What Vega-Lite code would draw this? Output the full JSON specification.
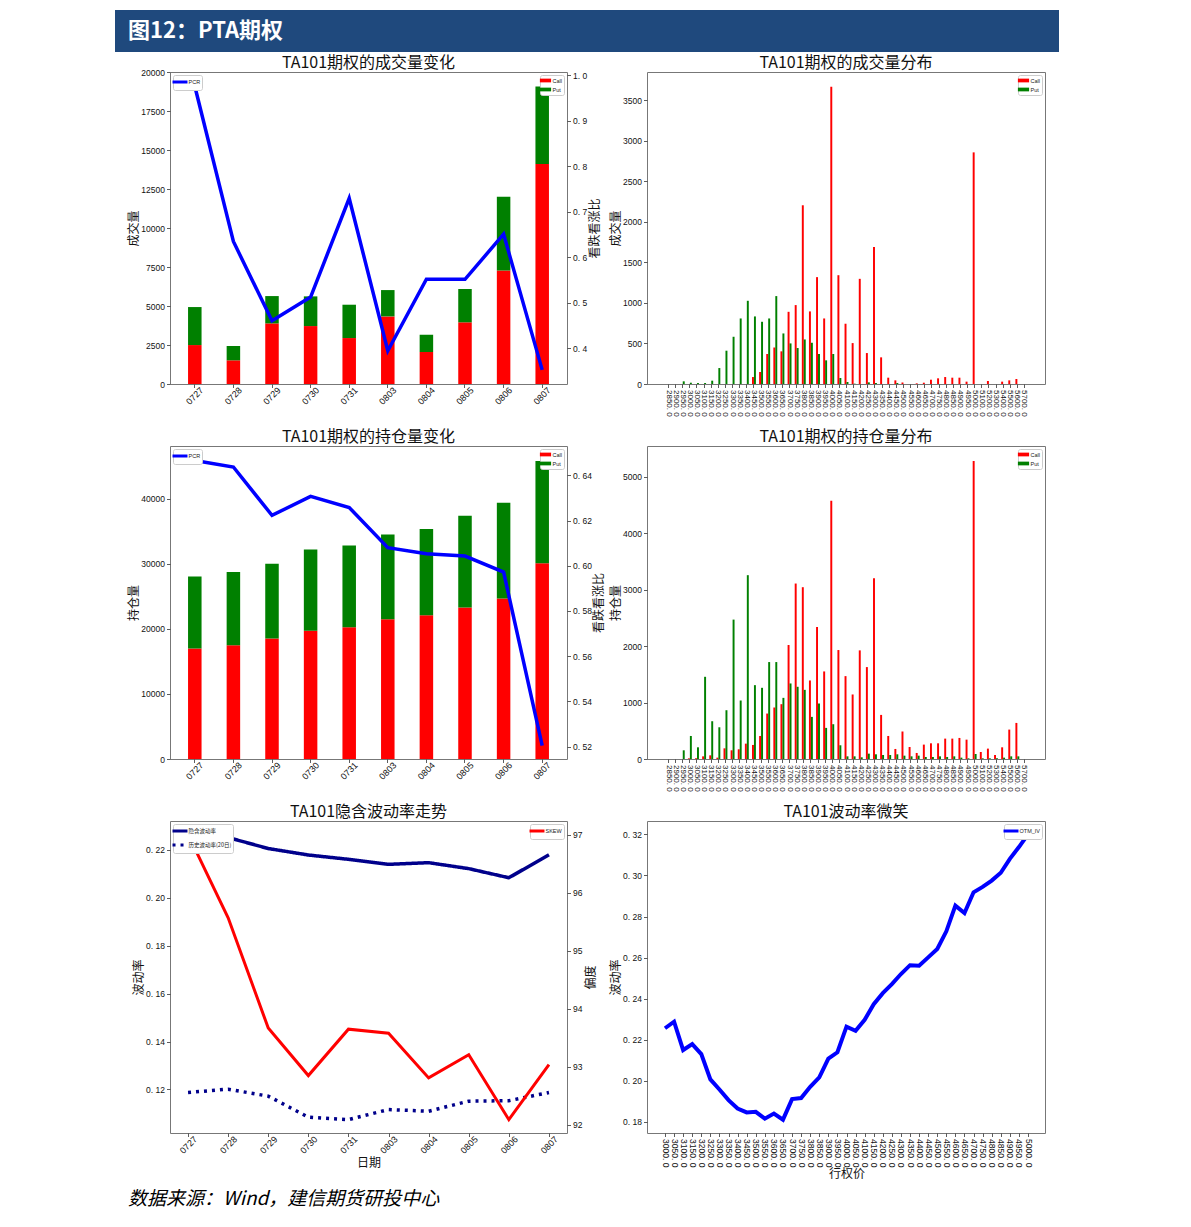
{
  "$schema": "https://vega.github.io/schema/vega-lite/v6.json",
  "background": "white",
  "padding": {"left": 115, "top": 9, "right": 10, "bottom": 10},
  "columns": 2,
  "bounds": "flush",
  "align": "each",
  "spacing": {"row": 62, "column": 80},
  "resolve": {"scale": {"color": "independent", "stroke": "independent", "strokeDash": "independent"}, "legend": {"color": "independent", "stroke": "independent", "strokeDash": "independent"}},
  "config": {
    "view": {"stroke": "#777777", "strokeWidth": 1},
    "axis": {"grid": false, "domain": false, "tickColor": "#333333", "tickSize": 3.5, "tickWidth": 0.8, "labelFont": "Liberation Sans", "labelFontSize": 8.5, "labelColor": "#111111", "labelPadding": 2, "titleFont": "Noto Sans CJK SC", "titleFontSize": 12, "titleFontWeight": "normal", "titleColor": "#111111", "titlePadding": 0},
    "title": {"font": "Noto Sans CJK SC", "fontSize": 16, "fontWeight": "normal", "color": "#111111", "offset": 1, "anchor": "middle", "frame": "group"},
    "legend": {"labelFont": "Liberation Sans", "labelFontSize": 5.5, "labelColor": "#222222", "padding": 1.5, "offset": 3, "fillColor": "#ffffff", "strokeColor": "#cccccc", "cornerRadius": 2, "rowPadding": 1, "labelOffset": 3, "symbolStrokeWidth": 3, "symbolSize": 56, "symbolType": "M-2,0L2,0"}
  },
  "datasets": {
    "tl": [
      {"date": "0727", "Call": 2500, "Put": 2440, "PCR": 0.976},
      {"date": "0728", "Call": 1520, "Put": 920, "PCR": 0.635},
      {"date": "0729", "Call": 3890, "Put": 1755, "PCR": 0.461},
      {"date": "0730", "Call": 3720, "Put": 1905, "PCR": 0.513},
      {"date": "0731", "Call": 2950, "Put": 2140, "PCR": 0.730},
      {"date": "0803", "Call": 4340, "Put": 1690, "PCR": 0.395},
      {"date": "0804", "Call": 2050, "Put": 1115, "PCR": 0.552},
      {"date": "0805", "Call": 3960, "Put": 2140, "PCR": 0.552},
      {"date": "0806", "Call": 7290, "Put": 4730, "PCR": 0.651},
      {"date": "0807", "Call": 14120, "Put": 4980, "PCR": 0.353}
    ],
    "ml": [
      {"date": "0727", "Call": 16970, "Put": 11080, "PCR": 0.6466},
      {"date": "0728", "Call": 17490, "Put": 11230, "PCR": 0.6437},
      {"date": "0729", "Call": 18510, "Put": 11490, "PCR": 0.6223},
      {"date": "0730", "Call": 19690, "Put": 12510, "PCR": 0.6307},
      {"date": "0731", "Call": 20260, "Put": 12560, "PCR": 0.6258},
      {"date": "0803", "Call": 21490, "Put": 13020, "PCR": 0.6080},
      {"date": "0804", "Call": 22100, "Put": 13230, "PCR": 0.6053},
      {"date": "0805", "Call": 23280, "Put": 14100, "PCR": 0.6043},
      {"date": "0806", "Call": 24670, "Put": 14720, "PCR": 0.5972},
      {"date": "0807", "Call": 30100, "Put": 15700, "PCR": 0.5204}
    ],
    "tr": [
      {"strike": "2850.0", "Call": 0, "Put": 0},
      {"strike": "2900.0", "Call": 0, "Put": 0},
      {"strike": "2950.0", "Call": 0, "Put": 33},
      {"strike": "3000.0", "Call": 0, "Put": 16},
      {"strike": "3050.0", "Call": 0, "Put": 12},
      {"strike": "3100.0", "Call": 0, "Put": 12},
      {"strike": "3150.0", "Call": 0, "Put": 41},
      {"strike": "3200.0", "Call": 0, "Put": 197},
      {"strike": "3250.0", "Call": 0, "Put": 411},
      {"strike": "3300.0", "Call": 0, "Put": 583},
      {"strike": "3350.0", "Call": 0, "Put": 809},
      {"strike": "3400.0", "Call": 0, "Put": 1027},
      {"strike": "3450.0", "Call": 86, "Put": 834},
      {"strike": "3500.0", "Call": 148, "Put": 768},
      {"strike": "3550.0", "Call": 370, "Put": 809},
      {"strike": "3600.0", "Call": 452, "Put": 1085},
      {"strike": "3650.0", "Call": 403, "Put": 624},
      {"strike": "3700.0", "Call": 891, "Put": 501},
      {"strike": "3750.0", "Call": 974, "Put": 444},
      {"strike": "3800.0", "Call": 2206, "Put": 550},
      {"strike": "3850.0", "Call": 896, "Put": 509},
      {"strike": "3900.0", "Call": 1319, "Put": 370},
      {"strike": "3950.0", "Call": 809, "Put": 292},
      {"strike": "4000.0", "Call": 3668, "Put": 370},
      {"strike": "4050.0", "Call": 1343, "Put": 74},
      {"strike": "4100.0", "Call": 744, "Put": 25},
      {"strike": "4150.0", "Call": 505, "Put": 4},
      {"strike": "4200.0", "Call": 1298, "Put": 0},
      {"strike": "4250.0", "Call": 382, "Put": 20},
      {"strike": "4300.0", "Call": 1692, "Put": 12},
      {"strike": "4350.0", "Call": 329, "Put": 0},
      {"strike": "4400.0", "Call": 78, "Put": 0},
      {"strike": "4450.0", "Call": 45, "Put": 12},
      {"strike": "4500.0", "Call": 20, "Put": 0},
      {"strike": "4550.0", "Call": 0, "Put": 0},
      {"strike": "4600.0", "Call": 8, "Put": 0},
      {"strike": "4650.0", "Call": 16, "Put": 0},
      {"strike": "4700.0", "Call": 53, "Put": 0},
      {"strike": "4750.0", "Call": 70, "Put": 0},
      {"strike": "4800.0", "Call": 86, "Put": 0},
      {"strike": "4850.0", "Call": 78, "Put": 0},
      {"strike": "4900.0", "Call": 78, "Put": 0},
      {"strike": "4950.0", "Call": 29, "Put": 0},
      {"strike": "5000.0", "Call": 2859, "Put": 0},
      {"strike": "5100.0", "Call": 0, "Put": 0},
      {"strike": "5200.0", "Call": 37, "Put": 0},
      {"strike": "5300.0", "Call": 0, "Put": 0},
      {"strike": "5400.0", "Call": 29, "Put": 0},
      {"strike": "5500.0", "Call": 45, "Put": 0},
      {"strike": "5600.0", "Call": 62, "Put": 0},
      {"strike": "5700.0", "Call": 0, "Put": 0}
    ],
    "mr": [
      {"strike": "2850.0", "Call": 0, "Put": 0},
      {"strike": "2900.0", "Call": 0, "Put": 0},
      {"strike": "2950.0", "Call": 0, "Put": 154},
      {"strike": "3000.0", "Call": 12, "Put": 408},
      {"strike": "3050.0", "Call": 12, "Put": 207},
      {"strike": "3100.0", "Call": 47, "Put": 1456},
      {"strike": "3150.0", "Call": 65, "Put": 669},
      {"strike": "3200.0", "Call": 24, "Put": 562},
      {"strike": "3250.0", "Call": 189, "Put": 864},
      {"strike": "3300.0", "Call": 154, "Put": 2469},
      {"strike": "3350.0", "Call": 172, "Put": 1036},
      {"strike": "3400.0", "Call": 272, "Put": 3256},
      {"strike": "3450.0", "Call": 249, "Put": 1308},
      {"strike": "3500.0", "Call": 408, "Put": 1261},
      {"strike": "3550.0", "Call": 805, "Put": 1717},
      {"strike": "3600.0", "Call": 912, "Put": 1717},
      {"strike": "3650.0", "Call": 971, "Put": 1083},
      {"strike": "3700.0", "Call": 2019, "Put": 1338},
      {"strike": "3750.0", "Call": 3108, "Put": 1279},
      {"strike": "3800.0", "Call": 3043, "Put": 1225},
      {"strike": "3850.0", "Call": 1391, "Put": 746},
      {"strike": "3900.0", "Call": 2338, "Put": 983},
      {"strike": "3950.0", "Call": 1551, "Put": 551},
      {"strike": "4000.0", "Call": 4576, "Put": 616},
      {"strike": "4050.0", "Call": 1930, "Put": 243},
      {"strike": "4100.0", "Call": 1468, "Put": 47},
      {"strike": "4150.0", "Call": 1143, "Put": 47},
      {"strike": "4200.0", "Call": 1924, "Put": 30},
      {"strike": "4250.0", "Call": 1628, "Put": 95},
      {"strike": "4300.0", "Call": 3203, "Put": 83},
      {"strike": "4350.0", "Call": 781, "Put": 71},
      {"strike": "4400.0", "Call": 408, "Put": 71},
      {"strike": "4450.0", "Call": 178, "Put": 83},
      {"strike": "4500.0", "Call": 485, "Put": 59},
      {"strike": "4550.0", "Call": 213, "Put": 47},
      {"strike": "4600.0", "Call": 107, "Put": 59},
      {"strike": "4650.0", "Call": 255, "Put": 36},
      {"strike": "4700.0", "Call": 278, "Put": 36},
      {"strike": "4750.0", "Call": 278, "Put": 47},
      {"strike": "4800.0", "Call": 361, "Put": 36},
      {"strike": "4850.0", "Call": 361, "Put": 47},
      {"strike": "4900.0", "Call": 373, "Put": 24},
      {"strike": "4950.0", "Call": 343, "Put": 12},
      {"strike": "5000.0", "Call": 5280, "Put": 89},
      {"strike": "5100.0", "Call": 124, "Put": 12},
      {"strike": "5200.0", "Call": 184, "Put": 12},
      {"strike": "5300.0", "Call": 71, "Put": 12},
      {"strike": "5400.0", "Call": 207, "Put": 24},
      {"strike": "5500.0", "Call": 521, "Put": 47},
      {"strike": "5600.0", "Call": 639, "Put": 47},
      {"strike": "5700.0", "Call": 0, "Put": 0}
    ],
    "bl": [
      {"date": "0727", "隐含波动率": 0.2274, "历史波动率(20日)": 0.1187, "SKEW": 97.01},
      {"date": "0728", "隐含波动率": 0.2252, "历史波动率(20日)": 0.1201, "SKEW": 95.57},
      {"date": "0729", "隐含波动率": 0.2206, "历史波动率(20日)": 0.1172, "SKEW": 93.67},
      {"date": "0730", "隐含波动率": 0.2179, "历史波动率(20日)": 0.1084, "SKEW": 92.85},
      {"date": "0731", "隐含波动率": 0.2161, "历史波动率(20日)": 0.1074, "SKEW": 93.65},
      {"date": "0803", "隐含波动率": 0.2140, "历史波动率(20日)": 0.1116, "SKEW": 93.58},
      {"date": "0804", "隐含波动率": 0.2147, "历史波动率(20日)": 0.1109, "SKEW": 92.81},
      {"date": "0805", "隐含波动率": 0.2122, "历史波动率(20日)": 0.1151, "SKEW": 93.21},
      {"date": "0806", "隐含波动率": 0.2084, "历史波动率(20日)": 0.1153, "SKEW": 92.09},
      {"date": "0807", "隐含波动率": 0.2180, "历史波动率(20日)": 0.1187, "SKEW": 93.04}
    ],
    "br": [
      {"strike": "3000.0", "iv": 0.2256}, {"strike": "3050.0", "iv": 0.2288}, {"strike": "3100.0", "iv": 0.2150},
      {"strike": "3150.0", "iv": 0.2179}, {"strike": "3200.0", "iv": 0.2130}, {"strike": "3250.0", "iv": 0.2007},
      {"strike": "3300.0", "iv": 0.1958}, {"strike": "3350.0", "iv": 0.1906}, {"strike": "3400.0", "iv": 0.1865},
      {"strike": "3450.0", "iv": 0.1846}, {"strike": "3500.0", "iv": 0.1849}, {"strike": "3550.0", "iv": 0.1816},
      {"strike": "3600.0", "iv": 0.1841}, {"strike": "3650.0", "iv": 0.1811}, {"strike": "3700.0", "iv": 0.1911},
      {"strike": "3750.0", "iv": 0.1916}, {"strike": "3800.0", "iv": 0.1971}, {"strike": "3850.0", "iv": 0.2017},
      {"strike": "3900.0", "iv": 0.2108}, {"strike": "3950.0", "iv": 0.2139}, {"strike": "4000.0", "iv": 0.2264},
      {"strike": "4050.0", "iv": 0.2244}, {"strike": "4100.0", "iv": 0.2297}, {"strike": "4150.0", "iv": 0.2373},
      {"strike": "4200.0", "iv": 0.2427}, {"strike": "4250.0", "iv": 0.2471}, {"strike": "4300.0", "iv": 0.2520},
      {"strike": "4350.0", "iv": 0.2563}, {"strike": "4400.0", "iv": 0.2560}, {"strike": "4450.0", "iv": 0.2601},
      {"strike": "4500.0", "iv": 0.2642}, {"strike": "4550.0", "iv": 0.2728}, {"strike": "4600.0", "iv": 0.2853},
      {"strike": "4650.0", "iv": 0.2817}, {"strike": "4700.0", "iv": 0.2918}, {"strike": "4750.0", "iv": 0.2944},
      {"strike": "4800.0", "iv": 0.2975}, {"strike": "4850.0", "iv": 0.3013}, {"strike": "4900.0", "iv": 0.3081},
      {"strike": "4950.0", "iv": 0.3138}, {"strike": "5000.0", "iv": 0.3200}
    ]
  },
  "concat": [
    {
      "width": 397, "height": 1,
      "view": {"stroke": null},
      "data": {"values": [{"label": "图12：PTA期权"}]},
      "layer": [
        {"mark": {"type": "rect", "color": "#1f497d"},
         "encoding": {
           "x": {"datum": 0, "type": "quantitative", "scale": {"domain": [0, 1], "range": [-55, 889]}, "axis": null},
           "x2": {"datum": 1},
           "y": {"datum": 0, "type": "quantitative", "scale": {"domain": [0, 1], "range": [1, 43]}, "axis": null},
           "y2": {"datum": 1}}},
        {"mark": {"type": "text", "align": "left", "baseline": "middle", "dx": 13, "color": "#ffffff", "font": "Noto Sans CJK SC", "fontSize": 22, "fontWeight": "bold"},
         "encoding": {
           "x": {"datum": 0, "type": "quantitative"},
           "y": {"datum": 0.5, "type": "quantitative"},
           "text": {"field": "label"}}}
      ]
    },
    {
      "width": 1, "height": 1,
      "view": {"stroke": null},
      "data": {"values": []},
      "mark": {"type": "text"},
      "encoding": {"text": {"field": "t", "type": "nominal"}}
    },
    {
      "width": 397, "height": 312,
      "title": {"text": "TA101期权的成交量变化", "offset": -3},
      "data": {"name": "tl"},
      "layer": [
        {"transform": [{"fold": ["Call", "Put"], "as": ["type", "value"]}],
         "mark": {"type": "bar"},
         "encoding": {
           "x": {"field": "date", "type": "nominal", "scale": {"paddingInner": 0.65, "paddingOuter": 0.4675}, "axis": {"title": null, "labelAngle": -45, "labelAlign": "center", "labelBaseline": "middle", "labelPadding": 8, "labelFontSize": 9}},
           "y": {"field": "value", "type": "quantitative", "stack": "zero", "scale": {"domain": [0, 20030], "nice": false}, "axis": {"title": "成交量", "format": "d", "values": [0, 2500, 5000, 7500, 10000, 12500, 15000, 17500, 20000]}},
           "color": {"field": "type", "type": "nominal", "scale": {"domain": ["Call", "Put"], "range": ["#ff0000", "#008000"]}, "legend": {"title": null, "orient": "top-right", "symbolType": "M-1.5,-0.5L1.5,-0.5L1.5,0.5L-1.5,0.5Z", "symbolStrokeWidth": 0}},
           "order": {"field": "type", "sort": "ascending"}
         }},
        {"mark": {"type": "line", "strokeWidth": 3.5},
         "encoding": {
           "x": {"field": "date", "type": "nominal"},
           "y": {"field": "PCR", "type": "quantitative", "scale": {"domain": [0.322, 1.0073], "nice": false, "zero": false}, "axis": {"orient": "right", "title": "看跌看涨比", "titleAngle": 270, "titleBaseline": "top", "titlePadding": 2.5, "values": [0.4, 0.5, 0.6, 0.7, 0.8, 0.9, 1.0], "labelExpr": "replace(format(datum.value, '.1f'), '.', '. ')"}},
           "stroke": {"datum": "PCR", "scale": {"range": ["#0000ff"]}, "legend": {"title": null, "orient": "top-left"}}
         }}
      ],
      "resolve": {"scale": {"y": "independent"}}
    },
    {
      "width": 398, "height": 312,
      "title": {"text": "TA101期权的成交量分布"},
      "data": {"name": "tr"},
      "transform": [{"fold": ["Call", "Put"], "as": ["type", "value"]}],
      "mark": {"type": "bar"},
      "encoding": {
        "x": {"field": "strike", "type": "ordinal", "scale": {"paddingInner": 0.45, "paddingOuter": 0.5, "range": [16, 383]}, "axis": {"title": null, "labelAngle": 90, "labelAlign": "left", "labelBaseline": "middle", "labelPadding": 2, "labelFontSize": 8, "labelOverlap": false, "labelExpr": "replace(datum.label, '.', '. ')"}},
        "xOffset": {"field": "type", "type": "nominal", "scale": {"domain": ["Call", "Put"]}},
        "y": {"field": "value", "type": "quantitative", "stack": null, "scale": {"domain": [0, 3851], "nice": false}, "axis": {"title": "成交量", "format": "d", "values": [0, 500, 1000, 1500, 2000, 2500, 3000, 3500]}},
        "color": {"field": "type", "type": "nominal", "scale": {"domain": ["Call", "Put"], "range": ["#ff0000", "#008000"]}, "legend": {"title": null, "orient": "top-right", "symbolType": "M-1.5,-0.5L1.5,-0.5L1.5,0.5L-1.5,0.5Z", "symbolStrokeWidth": 0}}
      }
    },
    {
      "width": 397, "height": 313,
      "title": {"text": "TA101期权的持仓量变化"},
      "data": {"name": "ml"},
      "layer": [
        {"transform": [{"fold": ["Call", "Put"], "as": ["type", "value"]}],
         "mark": {"type": "bar"},
         "encoding": {
           "x": {"field": "date", "type": "nominal", "scale": {"paddingInner": 0.65, "paddingOuter": 0.4675}, "axis": {"title": null, "labelAngle": -45, "labelAlign": "center", "labelBaseline": "middle", "labelPadding": 8, "labelFontSize": 9}},
           "y": {"field": "value", "type": "quantitative", "stack": "zero", "scale": {"domain": [0, 48100], "nice": false}, "axis": {"title": "持仓量", "format": "d", "values": [0, 10000, 20000, 30000, 40000]}},
           "color": {"field": "type", "type": "nominal", "scale": {"domain": ["Call", "Put"], "range": ["#ff0000", "#008000"]}, "legend": {"title": null, "orient": "top-right", "symbolType": "M-1.5,-0.5L1.5,-0.5L1.5,0.5L-1.5,0.5Z", "symbolStrokeWidth": 0}},
           "order": {"field": "type", "sort": "ascending"}
         }},
        {"mark": {"type": "line", "strokeWidth": 3.5},
         "encoding": {
           "x": {"field": "date", "type": "nominal"},
           "y": {"field": "PCR", "type": "quantitative", "scale": {"domain": [0.5145, 0.653], "nice": false, "zero": false}, "axis": {"orient": "right", "title": "看跌看涨比", "titleAngle": 270, "titleBaseline": "top", "titlePadding": 2.5, "values": [0.52, 0.54, 0.56, 0.58, 0.6, 0.62, 0.64], "labelExpr": "replace(format(datum.value, '.2f'), '.', '. ')"}},
           "stroke": {"datum": "PCR", "scale": {"range": ["#0000ff"]}, "legend": {"title": null, "orient": "top-left"}}
         }}
      ],
      "resolve": {"scale": {"y": "independent"}}
    },
    {
      "width": 398, "height": 313,
      "title": {"text": "TA101期权的持仓量分布"},
      "data": {"name": "mr"},
      "transform": [{"fold": ["Call", "Put"], "as": ["type", "value"]}],
      "mark": {"type": "bar"},
      "encoding": {
        "x": {"field": "strike", "type": "ordinal", "scale": {"paddingInner": 0.45, "paddingOuter": 0.5, "range": [16, 383]}, "axis": {"title": null, "labelAngle": 90, "labelAlign": "left", "labelBaseline": "middle", "labelPadding": 2, "labelFontSize": 8, "labelOverlap": false, "labelExpr": "replace(datum.label, '.', '. ')"}},
        "xOffset": {"field": "type", "type": "nominal", "scale": {"domain": ["Call", "Put"]}},
        "y": {"field": "value", "type": "quantitative", "stack": null, "scale": {"domain": [0, 5544], "nice": false}, "axis": {"title": "持仓量", "format": "d", "values": [0, 1000, 2000, 3000, 4000, 5000]}},
        "color": {"field": "type", "type": "nominal", "scale": {"domain": ["Call", "Put"], "range": ["#ff0000", "#008000"]}, "legend": {"title": null, "orient": "top-right", "symbolType": "M-1.5,-0.5L1.5,-0.5L1.5,0.5L-1.5,0.5Z", "symbolStrokeWidth": 0}}
      }
    },
    {
      "width": 397, "height": 312,
      "title": {"text": "TA101隐含波动率走势"},
      "data": {"name": "bl"},
      "layer": [
        {"transform": [{"fold": ["隐含波动率", "历史波动率(20日)"], "as": ["series", "value"]}],
         "mark": {"type": "line", "strokeWidth": 3.5},
         "encoding": {
           "x": {"field": "date", "type": "ordinal", "scale": {"type": "point", "padding": 0.45}, "axis": {"title": "日期", "titlePadding": 2, "labelAngle": -45, "labelAlign": "center", "labelBaseline": "middle", "labelPadding": 8, "labelFontSize": 9}},
           "y": {"field": "value", "type": "quantitative", "scale": {"domain": [0.1018, 0.2321], "nice": false, "zero": false}, "axis": {"title": "波动率", "values": [0.12, 0.14, 0.16, 0.18, 0.2, 0.22], "labelExpr": "replace(format(datum.value, '.2f'), '.', '. ')"}},
           "stroke": {"field": "series", "type": "nominal", "scale": {"domain": ["隐含波动率", "历史波动率(20日)"], "range": ["#00008b", "#00008b"]}, "legend": {"title": null, "orient": "top-left", "labelFont": "Noto Sans CJK SC"}},
           "strokeDash": {"field": "series", "type": "nominal", "scale": {"domain": ["隐含波动率", "历史波动率(20日)"], "range": [[1, 0], [3, 5]]}, "legend": {"title": null, "orient": "top-left", "labelFont": "Noto Sans CJK SC"}}
         }},
        {"mark": {"type": "line", "strokeWidth": 3},
         "encoding": {
           "x": {"field": "date", "type": "ordinal"},
           "y": {"field": "SKEW", "type": "quantitative", "scale": {"domain": [91.86, 97.24], "nice": false, "zero": false}, "axis": {"orient": "right", "title": "偏度", "titleAngle": 270, "titleBaseline": "top", "titlePadding": 4, "format": "d", "values": [92, 93, 94, 95, 96, 97]}},
           "color": {"datum": "SKEW", "scale": {"range": ["#ff0000"]}, "legend": {"title": null, "orient": "top-right"}}
         }}
      ],
      "resolve": {"scale": {"y": "independent"}}
    },
    {
      "width": 398, "height": 312,
      "title": {"text": "TA101波动率微笑"},
      "data": {"name": "br"},
      "mark": {"type": "line", "strokeWidth": 4},
      "encoding": {
        "x": {"field": "strike", "type": "ordinal", "scale": {"type": "point", "padding": 0, "range": [18, 381]}, "axis": {"title": "行权价", "titlePadding": 2, "labelAngle": 90, "labelAlign": "left", "labelBaseline": "middle", "labelPadding": 2, "labelFontSize": 8.5, "labelOverlap": false, "labelExpr": "replace(datum.label, '.', '. ')"}},
        "y": {"field": "iv", "type": "quantitative", "scale": {"domain": [0.1746, 0.3265], "nice": false, "zero": false}, "axis": {"title": "波动率", "values": [0.18, 0.2, 0.22, 0.24, 0.26, 0.28, 0.3, 0.32], "labelExpr": "replace(format(datum.value, '.2f'), '.', '. ')"}},
        "stroke": {"datum": "OTM_IV", "scale": {"range": ["#0000ff"]}, "legend": {"title": null, "orient": "top-right"}}
      }
    },
    {
      "width": 1, "height": 1,
      "view": {"stroke": null},
      "data": {"values": [{"t": "数据来源：Wind，建信期货研投中心"}]},
      "mark": {"type": "text", "align": "left", "baseline": "middle", "dx": -42.5, "dy": 3.5, "font": "Noto Sans CJK SC", "fontSize": 19, "fontStyle": "italic", "color": "#000000"},
      "encoding": {"text": {"field": "t"}}
    }
  ]
}
